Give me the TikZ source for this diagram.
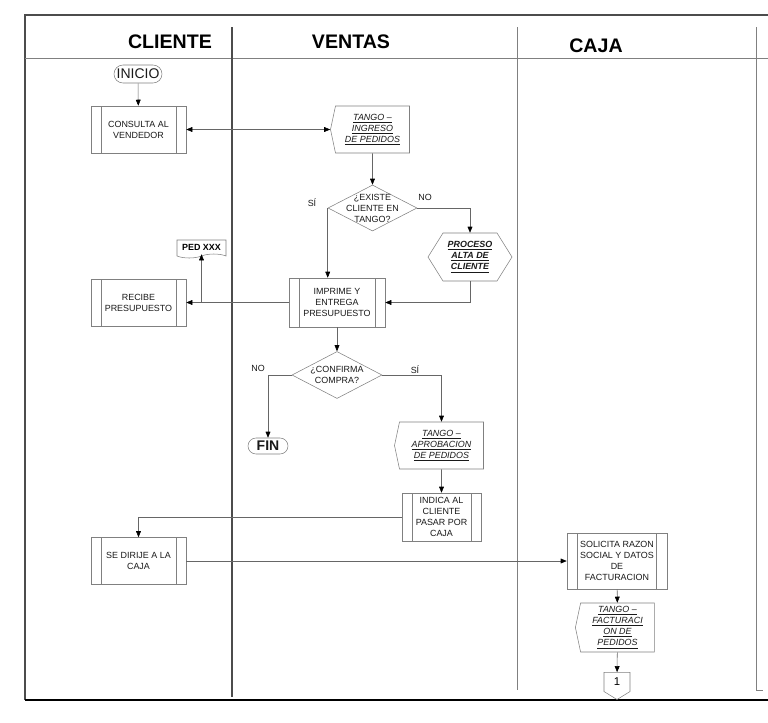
\documentclass[tikz,border=0pt]{standalone}
\usepackage{fontspec}
\setmainfont{Liberation Sans}
\usepackage{xcolor}
\usepackage{tikz}
\usetikzlibrary{shapes.geometric}
\usetikzlibrary{shapes.misc}
\usetikzlibrary{shapes.symbols}
\usetikzlibrary{arrows.meta}

\definecolor{boxgray}{gray}{0.5}
\definecolor{linegray}{gray}{0.4}
\newcommand{\smallfont}{\fontsize{6.7pt}{8.3pt}\selectfont}

\begin{document}
\begin{tikzpicture}[x=0.75pt, y=-0.75pt,
    box/.style={draw=boxgray, fill=white, inner sep=1pt, align=center, font=\smallfont, text=black!90},
    proc/.style={box, rectangle, path picture={
        \draw[boxgray] ([xshift=#1]path picture bounding box.north west) -- ([xshift=#1]path picture bounding box.south west)
                       ([xshift=-#1]path picture bounding box.north east) -- ([xshift=-#1]path picture bounding box.south east);}},
    proc/.default=7.5pt,
    tango/.style={box, signal, signal to=west, signal pointer angle=156, font=\smallfont\itshape},
    hexa/.style={box, signal, signal to=west and east, signal pointer angle=116, font=\smallfont\bfseries\itshape},
    decision/.style={draw=boxgray, fill=white, diamond, inner sep=0pt},
    term/.style={draw=boxgray, rounded rectangle, inner sep=0pt, text=black!90},
    docu/.style={draw=boxgray, tape, tape bend top=none, tape bend height=3pt, inner sep=0pt, font=\smallfont\bfseries},
    offpage/.style={draw=boxgray, signal, signal to=south, signal pointer angle=117, inner sep=0pt, font=\fontsize{8.5pt}{9pt}\selectfont},
    lbl/.style={font=\smallfont, text=black!90},
    hdr/.style={font=\fontsize{14.7pt}{16pt}\selectfont\bfseries},
    flow/.style={draw=linegray, -{Triangle[length=4.5pt, width=3.6pt, color=black]}},
    flowboth/.style={draw=linegray, {Triangle[length=4.5pt, width=3.6pt, color=black]}-{Triangle[length=4.5pt, width=3.6pt, color=black]}}]

    \useasboundingbox (0,0) rectangle (768,722);

    % frame and lanes
    \draw[black!70, line width=0.8pt] (768,15) -- (25,15) -- (25,700);
    \draw[black, line width=1.3pt] (25,700) -- (768,700);
    \draw[boxgray, line width=0.6pt] (25,58) -- (768,58);
    \draw[black!70, line width=1.4pt] (232,27) -- (232,697);
    \draw[boxgray, line width=0.6pt] (517,27) -- (517,690);
    \draw[boxgray, line width=0.6pt] (756,27) -- (756,690) -- (763,690);

    \node[hdr] (hcliente) at (170,42) {CLIENTE};
    \node[hdr] (hventas) at (351,42) {VENTAS};
    \node[hdr] (hcaja) at (596,46) {CAJA};

    % nodes
    \node[term, minimum width=36pt, minimum height=13.5pt, font=\fontsize{10.5pt}{12pt}\selectfont] (inicio) at (138,74) {INICIO};
    \node[proc, minimum width=71.25pt, minimum height=35.25pt] (consulta) at (138.5,129.5) {CONSULTA AL\\VENDEDOR};
    \node[tango, minimum width=59.25pt, minimum height=35.25pt] (ingreso) at (372.5,129.5) {\underline{TANGO –}\\\underline{INGRESO}\\\underline{DE PEDIDOS}};
    \node[decision, minimum width=66.75pt, minimum height=34.5pt,
          label={[lbl, align=center]center:{¿EXISTE\\CLIENTE EN\\TANGO?}}] (existe) at (372.5,208) {};
    \node[hexa, minimum width=63pt, minimum height=36pt] (alta) at (470,257) {\underline{PROCESO}\\\underline{ALTA DE}\\\underline{CLIENTE}};
    \node[proc, minimum width=72pt, minimum height=36.75pt] (imprime) at (337,302.5) {IMPRIME Y\\ENTREGA\\PRESUPUESTO};
    \node[proc, minimum width=71.25pt, minimum height=35.25pt] (recibe) at (138.5,302.5) {RECIBE\\PRESUPUESTO};
    \node[docu, minimum width=36.75pt, minimum height=13.5pt] (ped) at (201.5,247) {PED XXX};
    \node[decision, minimum width=67.5pt, minimum height=35.25pt,
          label={[lbl, align=center]center:{¿CONFIRMA\\COMPRA?}}] (confirma) at (337,375) {};
    \node[term, minimum width=30pt, minimum height=12pt, font=\fontsize{10.5pt}{12pt}\selectfont\bfseries] (fin) at (268,446) {FIN};
    \node[tango, minimum width=66.75pt, minimum height=35.25pt] (aprob) at (441.5,445.5) {\underline{TANGO –}\\\underline{APROBACION}\\\underline{DE PEDIDOS}};
    \node[proc, minimum width=59.25pt, minimum height=36pt] (indica) at (441.5,517) {INDICA AL\\CLIENTE\\PASAR POR\\CAJA};
    \node[proc, minimum width=71.25pt, minimum height=35.25pt] (dirije) at (138.5,561) {SE DIRIJE A LA\\CAJA};
    \node[proc=8pt, minimum width=75pt, minimum height=42pt] (solicita) at (617,561) {SOLICITA RAZON\\SOCIAL Y DATOS\\DE\\FACTURACION};
    \node[tango, minimum width=59.25pt, minimum height=36.75pt] (factura) at (617.5,627.5) {\underline{TANGO –}\\\underline{FACTURACI}\\\underline{ON DE}\\\underline{PEDIDOS}};
    \node[offpage, minimum width=19.5pt, minimum height=15.75pt] (con1) at (617,682) {1};

    \node[lbl] (si1) at (312,203) {SÍ};
    \node[lbl] (no1) at (425,197) {NO};
    \node[lbl] (no2) at (258,368) {NO};
    \node[lbl] (si2) at (415,370) {SÍ};

    % connectors
    \draw[flow] (inicio) -- (consulta);
    \draw[flowboth] (consulta) -- (ingreso);
    \draw[flow] (ingreso) -- (existe);
    \draw[flow] (existe.west) -- (existe.west |- imprime.north);
    \draw[flow] (existe.east) -| (alta.north);
    \draw[flow] (alta.south) |- (imprime.east);
    \draw[flow] (imprime.west) -- (recibe.east);
    \draw[flow] (ped.south |- imprime.west) -- (ped.south);
    \draw[flow] (imprime) -- (confirma);
    \draw[flow] (confirma.west) -| (fin.north);
    \draw[flow] (confirma.east) -| (aprob.north);
    \draw[flow] (aprob) -- (indica);
    \draw[flow] (indica.west) -| (dirije.north);
    \draw[flow] (dirije.east) -- (solicita.west);
    \draw[flow] (solicita) -- (factura);
    \draw[flow] (factura) -- (con1);
\end{tikzpicture}
\end{document}
